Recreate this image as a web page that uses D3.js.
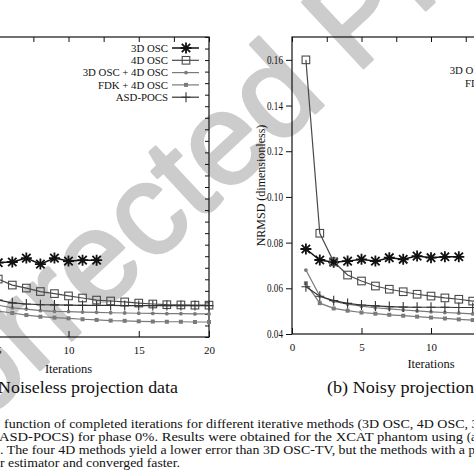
<!DOCTYPE html>
<html><head><meta charset="utf-8">
<script src="https://cdn.jsdelivr.net/npm/d3@7"></script>
<style>body{margin:0;background:#fff}svg{display:block}</style>
</head><body>
<svg id="c" width="474" height="474"></svg>
<script>
// ---------------- data ----------------
const iterations = [1,2,3,4,5,6,7,8,9,10,11,12,13,14,15,16,17,18,19,20];
const methods = ["3D OSC","4D OSC","3D OSC + 4D OSC","FDK + 4D OSC","ASD-POCS"];
const xTickLabels = [0,5,10,15,20];
const yTickLabels = [0.04,0.06,0.08,0.10,0.12,0.14,0.16];

// (a) noiseless projection data
const noiseless3DOSC   = [0.0800,0.0745,0.0735,0.0728,0.0722,0.0725,0.0742,0.0716,0.0742,0.0729,0.0733,0.0733];
const noiseless4DOSC   = [0.0950,0.0780,0.0720,0.0680,0.0651,0.0625,0.0612,0.0597,0.0588,0.0578,0.0569,0.0560,0.0556,0.0552,0.0547,0.0543,0.0540,0.0539,0.0538,0.0538];
const noiseless3D4D    = [0.0680,0.0600,0.0570,0.0552,0.0538,0.0526,0.0521,0.0514,0.0511,0.0510,0.0508,0.0507,0.0505,0.0504,0.0503,0.0502,0.0501,0.0501,0.0500,0.0500];
const noiselessFDK4D   = [0.0620,0.0560,0.0535,0.0522,0.0512,0.0504,0.0495,0.0488,0.0484,0.0481,0.0477,0.0474,0.0471,0.0470,0.0468,0.0467,0.0466,0.0466,0.0465,0.0465];
const noiselessASDPOCS = [0.0700,0.0620,0.0590,0.0572,0.0560,0.0548,0.0543,0.0540,0.0539,0.0538,0.0537,0.0537,0.0537,0.0536,0.0536,0.0536,0.0536,0.0536,0.0536,0.0536];

// (b) noisy projection data
const noisy3DOSC   = [0.0772,0.0724,0.0714,0.0719,0.0727,0.0719,0.0734,0.0727,0.0741,0.0734,0.0738,0.0738];
const noisy4DOSC   = [0.1600,0.0841,0.0716,0.0658,0.0632,0.0610,0.0596,0.0585,0.0574,0.0566,0.0558,0.0552,0.0544,0.0540,0.0535,0.0531,0.0528,0.0525,0.0522,0.0520];
const noisy3D4D    = [0.0680,0.0566,0.0543,0.0531,0.0522,0.0515,0.0510,0.0505,0.0501,0.0497,0.0494,0.0491,0.0488,0.0486,0.0484,0.0482,0.0480,0.0479,0.0478,0.0477];
const noisyFDK4D   = [0.0622,0.0535,0.0512,0.0502,0.0494,0.0489,0.0484,0.0480,0.0476,0.0472,0.0468,0.0464,0.0461,0.0459,0.0457,0.0455,0.0453,0.0452,0.0450,0.0449];
const noisyASDPOCS = [0.0607,0.0565,0.0546,0.0534,0.0527,0.0523,0.0520,0.0518,0.0517,0.0517,0.0517,0.0516,0.0516,0.0516,0.0516,0.0516,0.0516,0.0516,0.0516,0.0516];

const subCaptions = ["(a) Noiseless projection data","(b) Noisy projection data"];
const captionLines = [
  ["function of completed iterations for different iterative methods (3D OSC, 4D OSC,","3D OSC + 4D OSC,"],
  ["ASD-POCS) for phase 0%. Results were obtained for the XCAT phantom using","(a)"],
  [". The four 4D methods yield a lower error than 3D OSC-TV, but the methods with a","prior"],
  ["r estimator and converged faster.",""]
];
const watermark = "Corrected Proof";

// ---------------- drawing ----------------
const svg = d3.select("#c");
const FONT = "'Liberation Serif','Times New Roman',serif";

// watermark (behind)
svg.append("text").text(watermark)
  .attr("transform","translate(-88,489) rotate(-43)")
  .attr("font-family","'Liberation Sans',Arial,sans-serif")
  .attr("font-size",130).attr("fill","#cccccc")
  .attr("stroke","#cccccc").attr("stroke-width",3).attr("stroke-linejoin","round");

const styles = [
  {type:"star",  color:"#111", w:1.5},
  {type:"sq",    color:"#4a4a4a", w:1.2},
  {type:"dot",   color:"#7a7a7a", w:1.2},
  {type:"fsq",   color:"#7a7a7a", w:1.2},
  {type:"plus",  color:"#333", w:1.2}
];

function marker(g, type, color, x, y){
  if(type==="star"){
    g.append("path").attr("d",`M${x-5.5},${y}H${x+5.5}M${x},${y-5.5}V${y+5.5}M${x-4.2},${y-4.2}L${x+4.2},${y+4.2}M${x-4.2},${y+4.2}L${x+4.2},${y-4.2}`)
      .attr("stroke",color).attr("stroke-width",1.8).attr("fill","none");
  } else if(type==="sq"){
    g.append("rect").attr("x",x-3.8).attr("y",y-3.8).attr("width",7.6).attr("height",7.6)
      .attr("fill","none").attr("stroke",color).attr("stroke-width",1.1);
  } else if(type==="dot"){
    g.append("circle").attr("cx",x).attr("cy",y).attr("r",1.9).attr("fill",color);
  } else if(type==="fsq"){
    g.append("rect").attr("x",x-2).attr("y",y-2).attr("width",4).attr("height",4).attr("fill",color);
  } else if(type==="plus"){
    g.append("path").attr("d",`M${x-4.5},${y}H${x+4.5}M${x},${y-5}V${y+5}`)
      .attr("stroke",color).attr("stroke-width",1.1).attr("fill","none");
  }
}

function panel(cfg){
  const g = svg.append("g");
  const x = d3.scaleLinear().domain([0,20]).range(cfg.xr);
  const y = d3.scaleLinear().domain([0.04,0.17]).range(cfg.yr);
  const [x0,x1] = cfg.xr, [y1,y0] = cfg.yr;

  const minorX = d3.range(0,20.01,2.5);
  const minorY = d3.range(0,27).map(i=>+(0.04+i*0.005).toFixed(3));

  const bot = g.append("g").attr("transform",`translate(0,${y1})`);
  bot.call(d3.axisBottom(x).tickValues(minorX).tickSize(-4).tickFormat(""));
  bot.call(d3.axisBottom(x).tickValues(xTickLabels).tickSize(-6).tickPadding(9).tickFormat(d3.format("d")));
  bot.selectAll(".domain").remove();
  const top = g.append("g").attr("transform",`translate(0,${y0})`);
  top.call(d3.axisTop(x).tickValues(minorX).tickSize(-5).tickFormat(""));
  top.selectAll(".domain").remove();
  const left = g.append("g").attr("transform",`translate(${x0},0)`);
  left.call(d3.axisLeft(y).tickValues(minorY).tickSize(4).tickFormat(""));
  left.call(d3.axisLeft(y).tickValues(yTickLabels).tickSize(6).tickPadding(3).tickFormat(d3.format(".2f")));
  left.selectAll(".domain").remove();
  const right = g.append("g").attr("transform",`translate(${x1},0)`);
  right.call(d3.axisRight(y).tickValues(minorY).tickSize(-4).tickFormat(""));
  right.selectAll(".domain").remove();

  g.selectAll(".tick line").attr("stroke","#111").attr("stroke-width",1);
  g.selectAll(".tick text").attr("font-family",FONT).attr("font-size",11).attr("fill","#111");
  left.selectAll(".tick text").attr("font-size",11.5).attr("textLength",16).attr("lengthAdjust","spacingAndGlyphs");

  g.append("rect").attr("x",x0).attr("y",y0).attr("width",x1-x0).attr("height",y1-y0)
    .attr("fill","none").attr("stroke","#111").attr("stroke-width",1.2);

  const line = d3.line().x((d,i)=>x(iterations[i])).y(d=>y(d));
  cfg.series.forEach((s,k)=>{
    const st = styles[k];
    g.append("path").datum(s).attr("d",line).attr("fill","none")
      .attr("stroke",st.color).attr("stroke-width",st.w);
  });
  cfg.series.forEach((s,k)=>{
    const st = styles[k];
    s.forEach((v,i)=>marker(g, st.type, st.color, x(iterations[i]), y(v)));
  });

  methods.forEach((m,k)=>{
    const st = styles[k];
    const ly = cfg.legY + k*12.3;
    g.append("text").text(m).attr("x",cfg.legX).attr("y",ly+3.8).attr("text-anchor","end")
      .attr("font-family",FONT).attr("font-size",10.8).attr("fill","#111");
    g.append("line").attr("x1",cfg.legX+4).attr("x2",cfg.legX+31).attr("y1",ly).attr("y2",ly)
      .attr("stroke",st.color).attr("stroke-width",st.w);
    marker(g, st.type, st.color, cfg.legX+18, ly);
  });

  g.append("text").text("Iterations").attr("x",x(10)).attr("y",cfg.xlabY).attr("text-anchor","middle")
    .attr("font-family",FONT).attr("font-size",12.5).attr("fill","#111");
  g.append("text").text("NRMSD (dimensionless)")
    .attr("transform",`translate(${x0-27},${(y0+y1)/2}) rotate(-90)`).attr("text-anchor","middle")
    .attr("font-family",FONT).attr("font-size",12).attr("fill","#111");
}

panel({xr:[-72,209], yr:[337,37], series:[noiseless3DOSC,noiseless4DOSC,noiseless3D4D,noiselessFDK4D,noiselessASDPOCS], legX:168, legY:48, xlabY:373});
panel({xr:[292,570], yr:[334,37], series:[noisy3DOSC,noisy4DOSC,noisy3D4D,noisyFDK4D,noisyASDPOCS], legX:535, legY:46, xlabY:367.5});

svg.append("text").text(subCaptions[0].slice(4)).attr("x",-2).attr("y",393)
  .attr("font-family",FONT).attr("font-size",17).attr("fill","#111")
  .attr("textLength",180).attr("lengthAdjust","spacingAndGlyphs");
svg.append("text").text(subCaptions[1].slice(0,20)).attr("x",327).attr("y",393)
  .attr("font-family",FONT).attr("font-size",17).attr("fill","#111")
  .attr("textLength",147).attr("lengthAdjust","spacingAndGlyphs");

const capX = [4,-1,0,0], capY = [428,441,454,467], capW = [464,464,465,180], capX2 = [471.5,466.7,468.5,0];
captionLines.forEach((l,i)=>{
  svg.append("text").text(l[0]).attr("x",capX[i]).attr("y",capY[i])
    .attr("font-family",FONT).attr("font-size",13).attr("fill","#111")
    .attr("textLength",capW[i]).attr("lengthAdjust","spacingAndGlyphs");
  if(l[1]) svg.append("text").text(l[1]).attr("x",capX2[i]).attr("y",capY[i])
    .attr("font-family",FONT).attr("font-size",13).attr("fill","#111");
});
</script>
</body></html>
